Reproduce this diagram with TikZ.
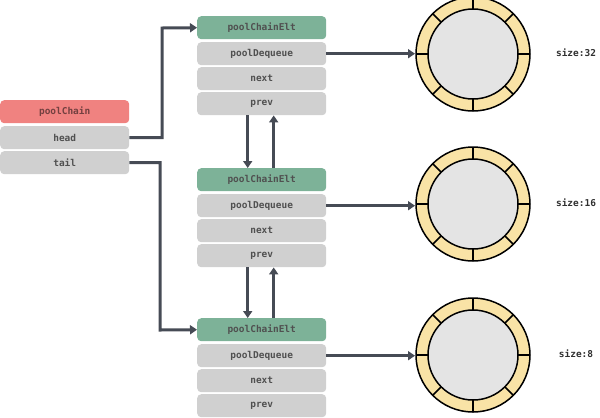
\documentclass[tikz,border=0pt]{standalone}
\usepackage{fontspec}
\setmonofont{DejaVu Sans Mono}
\usetikzlibrary{arrows.meta,calc}
\definecolor{cred}{RGB}{240,130,128}
\definecolor{cgreen}{RGB}{125,178,152}
\definecolor{cgray}{RGB}{208,208,208}
\definecolor{cring}{RGB}{249,227,166}
\definecolor{cin}{RGB}{228,228,228}
\definecolor{carr}{RGB}{70,75,85}
\definecolor{ctxt}{RGB}{80,80,80}
\begin{document}
\begin{tikzpicture}[x=1bp,y=-1bp,
 blk/.style={draw=none,rounded corners=4bp,minimum width=129bp,minimum height=23bp,inner sep=0pt,font=\ttfamily\bfseries\fontsize{9.5}{10}\selectfont,text=ctxt,anchor=north west},
 hd/.style={blk,fill=cgreen},
 cell/.style={blk,fill=cgray},
 arr/.style={draw=carr,line width=3bp,-{Triangle[length=7bp,width=9bp]}},
 lbl/.style={font=\ttfamily\bfseries\fontsize{9.5}{10}\selectfont,text=ctxt!60!black}]
\useasboundingbox (0,0) rectangle (600,417);
\node[blk,fill=cred,text=ctxt!80!red] (pc) at (0,100) {poolChain};
\node[cell] (head) at (0,126) {head};
\node[cell] (tail) at (0,151) {tail};
\foreach \i/\y/\r/\s in {1/16/54/32,2/168/204/16,3/318/355/8}{
 \node[hd] (e\i) at (197,\y) {poolChainElt};
 \node[cell] (d\i) at (197,\y+26) {poolDequeue};
 \node[cell] (n\i) at (197,\y+51) {next};
 \node[cell] (p\i) at (197,\y+76) {prev};
 \coordinate (c\i) at (473,\r);
 \fill[cring,draw=black,line width=1.5bp] (c\i) circle (57bp);
 \fill[cin,draw=black,line width=1.5bp] (c\i) circle (45bp);
 \foreach \a in {0,45,...,315}
  \draw[line width=1.5bp] ($(c\i)+(\a:45bp)$) -- ($(c\i)+(\a:57bp)$);
 \node[lbl] (s\i) at (576,\r-1) {size:\s};
 \coordinate (t\i) at (415,\r);
 \draw[arr] (d\i.east) -- (d\i.east -| t\i);
}
\draw[arr] (head.east) -| (162,28) -- (e1.west);
\draw[arr] (tail.east) -| (160,330) -- (e3.west);
\foreach \a/\b in {1/2,2/3}{
 \draw[arr] ([xshift=-14bp]p\a.south) -- ([xshift=-14bp]e\b.north);
 \draw[arr] ([xshift=12bp]e\b.north) -- ([xshift=12bp]p\a.south);
}
\end{tikzpicture}
\end{document}
